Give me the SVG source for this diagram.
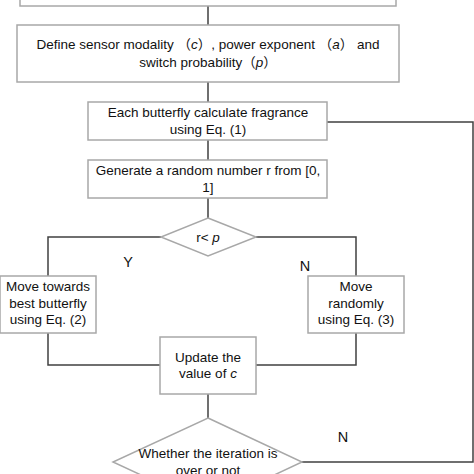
<svg xmlns="http://www.w3.org/2000/svg" width="474" height="474" viewBox="0 0 474 474">
<style>
.box{fill:#fff;stroke:#a8a8a8;stroke-width:1.5}
.ln{fill:none;stroke:#404040;stroke-width:1.5}
text{font-family:"Liberation Sans","Noto Sans CJK SC",Arial,sans-serif;font-size:13.5px;fill:#111;text-anchor:middle}
.lb{font-size:14.5px}
.i{font-style:italic}
</style>
<rect width="474" height="474" fill="#fff"/>
<g id="connectors">
<path class="ln" d="M208,6V25M208,82V102M208,140V160M208,198V218"/>
<path class="ln" d="M161,237H48V276M256,237H356V276"/>
<path class="ln" d="M48,333V365H160M356,333V365H256"/>
<path class="ln" d="M208,394V418"/>
<path class="ln" d="M327,122H473V462H302"/>
</g>
<g id="init"><rect class="box" x="20" y="-30" width="376" height="36"/></g>
<g id="define">
<rect class="box" x="17" y="25" width="382" height="57"/>
<text x="208" y="49">Define sensor modality （<tspan class="i">c</tspan>）, power exponent （<tspan class="i">a</tspan>） and</text>
<text x="208" y="67">switch probability（<tspan class="i">p</tspan>）</text>
</g>
<g id="fragrance">
<rect class="box" x="88" y="102" width="239" height="38"/>
<text x="208" y="117">Each butterfly calculate fragrance</text>
<text x="208" y="134">using Eq. (1)</text>
</g>
<g id="random">
<rect class="box" x="88" y="160" width="239" height="38"/>
<text x="208" y="175">Generate a random number r from [0,</text>
<text x="208" y="192">1]</text>
</g>
<g id="decision1">
<polygon class="box" points="208,218 256,237 208,256 161,237"/>
<text x="208" y="242">r&lt; <tspan class="i">p</tspan></text>
</g>
<g id="towards">
<rect class="box" x="0" y="276" width="96" height="57"/>
<text x="48" y="291">Move towards</text>
<text x="48" y="308">best butterfly</text>
<text x="48" y="324">using Eq. (2)</text>
</g>
<g id="randomly">
<rect class="box" x="308" y="276" width="96" height="57"/>
<text x="356" y="291">Move</text>
<text x="356" y="308">randomly</text>
<text x="356" y="324">using Eq. (3)</text>
</g>
<g id="update">
<rect class="box" x="160" y="337" width="96" height="57"/>
<text x="208" y="362">Update the</text>
<text x="208" y="378">value of <tspan class="i">c</tspan></text>
</g>
<g id="decision2">
<polygon class="box" points="208,418 302,462 208,506 113,462"/>
<text x="208" y="458">Whether the iteration is</text>
<text x="208" y="475">over or not</text>
</g>
<g id="labels">
<text class="lb" x="128" y="267">Y</text>
<text class="lb" x="305" y="271">N</text>
<text class="lb" x="343" y="442">N</text>
</g>
</svg>
